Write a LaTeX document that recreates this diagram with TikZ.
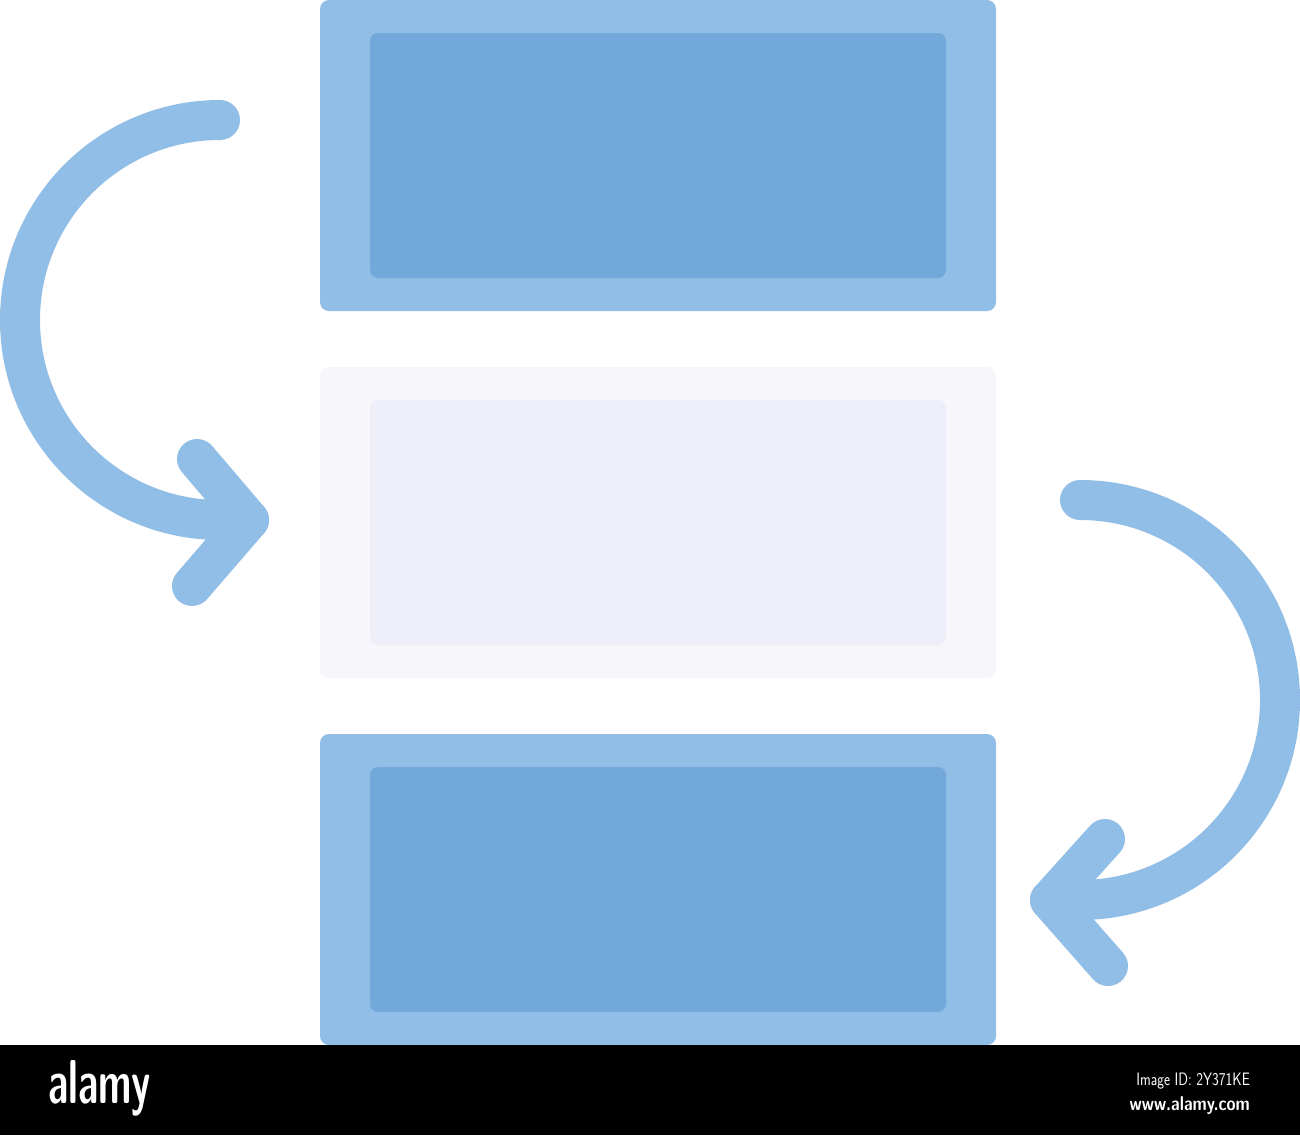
\documentclass[tikz,border=0pt]{standalone}
\usepackage{fontspec}
\setmainfont{Open Sans}
\definecolor{lightblue}{HTML}{90BEE6}
\definecolor{midblue}{HTML}{72A8DA}
\definecolor{paleouter}{HTML}{F6F6FB}
\definecolor{paleinner}{HTML}{EDEEF7}
\tikzset{
  outerbox/.style={draw=none, rounded corners=9pt, minimum width=676pt, minimum height=311pt, inner sep=0pt},
  innerbox/.style={draw=none, rounded corners=8pt, minimum width=576pt, minimum height=245pt, inner sep=0pt},
  arrowline/.style={draw=lightblue, line width=40pt, line cap=round, line join=round},
  bartext/.style={text=white, inner sep=0pt, font=\sffamily}
}
\begin{document}
\begin{tikzpicture}[x=1pt,y=-1pt]
\useasboundingbox (0,0) rectangle (1300,1135);
\fill[white] (0,0) rectangle (1300,1135);
% boxes
\node[outerbox, fill=lightblue] (topout) at (658,155.5) {};
\node[innerbox, fill=midblue] (topin) at (658,155.5) {};
\node[outerbox, fill=paleouter] (midout) at (658,522.5) {};
\node[innerbox, fill=paleinner] (midin) at (658,522.5) {};
\node[outerbox, fill=lightblue] (botout) at (658,889.5) {};
\node[innerbox, fill=midblue] (botin) at (658,889.5) {};
% left arrow
\coordinate (lstart) at (220,120);
\coordinate (ltip) at (249,520);
\coordinate (lup) at (197,459);
\coordinate (ldown) at (192,586);
\draw[arrowline] (lstart) arc[start angle=-90, end angle=-270, radius=200] -- (ltip);
\draw[arrowline] (lup) -- (ltip) -- (ldown);
% right arrow
\coordinate (rstart) at (1080,500);
\coordinate (rtip) at (1050,900);
\coordinate (rup) at (1105,839);
\coordinate (rdown) at (1108,966);
\draw[arrowline] (rstart) arc[start angle=-90, end angle=90, radius=200] -- (rtip);
\draw[arrowline] (rup) -- (rtip) -- (rdown);
% bottom bar
\fill[black] (0,1045) rectangle (1300,1135);
\node[bartext, font=\sffamily\bfseries\fontsize{62}{62}\selectfont, xscale=0.62, anchor=west] (logo) at (48,1088) {alamy};
\node[bartext, font=\sffamily\fontsize{18}{18}\selectfont, xscale=0.8, anchor=east] (imgid) at (1250,1081) {Image ID: 2Y371KE};
\node[bartext, font=\sffamily\bfseries\fontsize{20}{20}\selectfont, xscale=0.82, anchor=east] (www) at (1250,1106) {www.alamy.com};
\end{tikzpicture}
\end{document}
